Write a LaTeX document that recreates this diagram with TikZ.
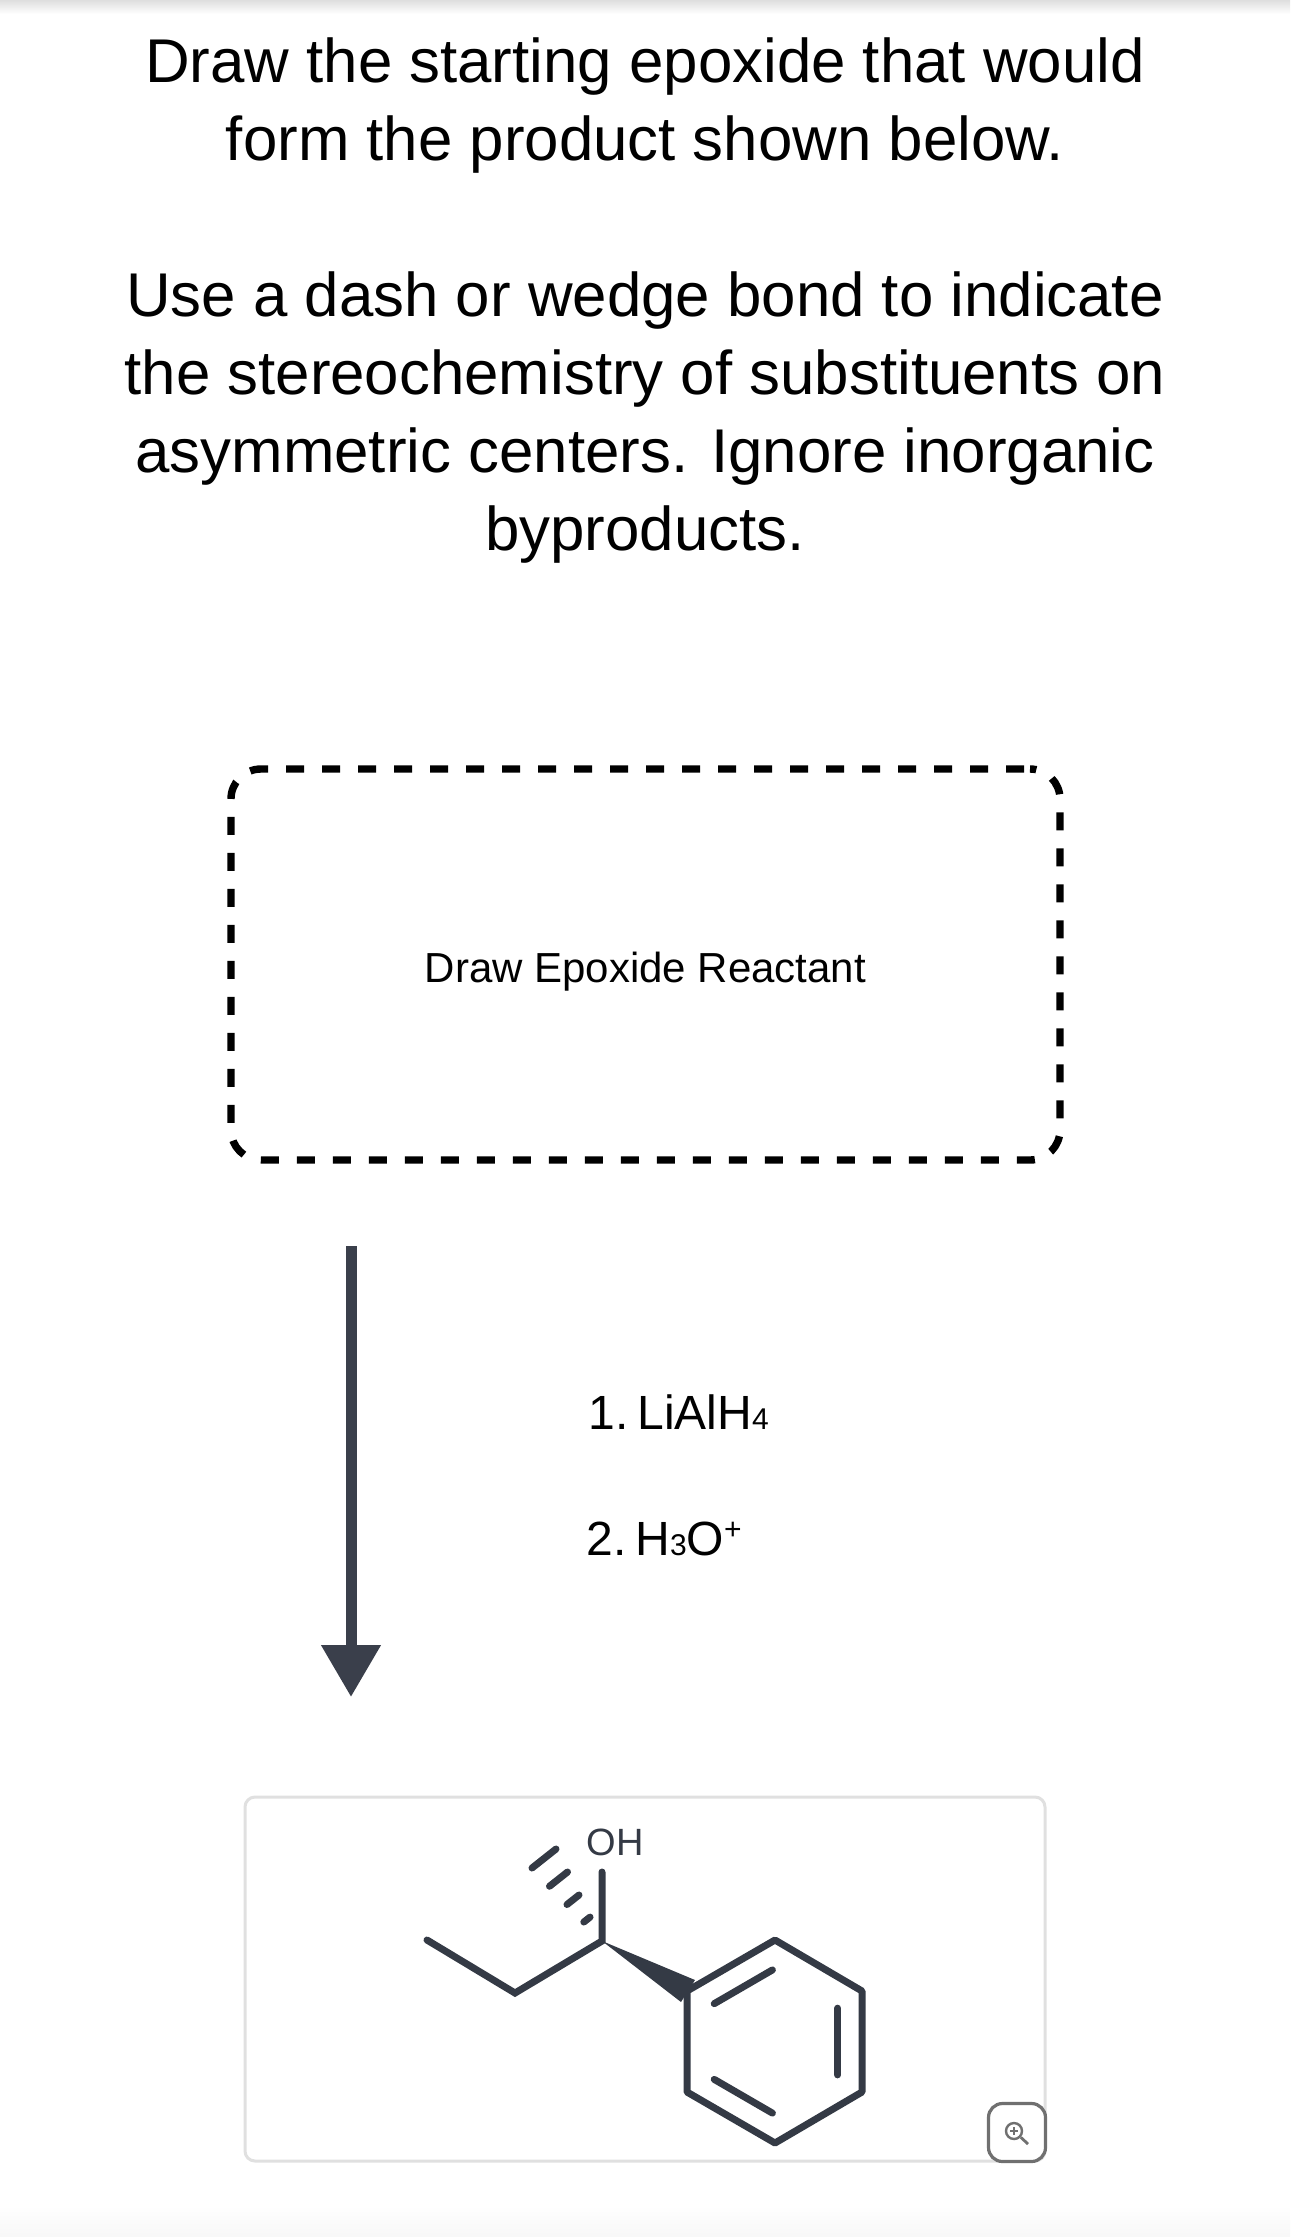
\documentclass[tikz,border=0pt]{standalone}
\usepackage{fontspec}
\setmainfont{Liberation Sans}
\usetikzlibrary{arrows.meta,positioning,calc,shadings}
\definecolor{bondcol}{HTML}{343A45}
\definecolor{arrowcol}{HTML}{3A3F4B}
\definecolor{panelcol}{HTML}{E0E0E0}
\definecolor{btncol}{HTML}{707070}
\tikzset{
  question/.style={align=center,inner sep=0pt,font=\fontsize{30.9pt}{39pt}\selectfont},
  reagent/.style={anchor=base west,inner sep=0pt,font=\fontsize{24pt}{28pt}\selectfont},
  reactbox/.style={draw=black,line width=3.7pt,rounded corners=15pt,dash pattern=on 9pt off 9pt,dash phase=15pt,
    minimum width=414.5pt,minimum height=195.5pt},
  boxlabel/.style={inner sep=0pt,font=\fontsize{21pt}{25pt}\selectfont},
  panel/.style={draw=panelcol,line width=1.5pt,rounded corners=5pt,minimum width=400pt,minimum height=182pt},
  zoombtn/.style={draw=btncol,fill=white,line width=1.6pt,rounded corners=7pt,minimum width=28.5pt,minimum height=29pt},
  bond/.style={draw=bondcol,line width=3.5pt,line cap=round,line join=miter},
  lens/.style={draw=btncol,line width=1.2pt,circle,minimum size=8pt,inner sep=0pt}
}
\newcommand{\smalldigit}[1]{{\fontsize{15pt}{17pt}\selectfont #1}}
\begin{document}
\begin{tikzpicture}[x=0.5pt,y=-0.5pt]
    \useasboundingbox (0,0) rectangle (1290,2237);
    \shade[top color=black!13,bottom color=white] (0,0) rectangle (1290,14);
    \shade[top color=white,bottom color=black!3] (0,2205) rectangle (1290,2237);

    \node[question] (Q1) at (645,106) {Draw the starting epoxide that would\\form the product shown below.};
    \node[question,below=48.5pt of Q1] (Q2) {Use a dash or wedge bond to indicate\\the stereochemistry of substituents on\\asymmetric centers. Ignore inorganic\\byproducts.};

    \node[reactbox] (Box) at (645.5,964.5) {};
    \node[boxlabel] (BoxLabel) at (645.5,972) {Draw Epoxide Reactant};

    \coordinate (A1) at (351,1246);
    \coordinate[below=225.5pt of A1] (A2);
    \draw[arrowcol,line width=5.5pt,-{Triangle[length=26pt,width=28.5pt]}] (A1) -- (A2);

    \node[reagent] (L1) at (588,1429) {1.\hspace{4.5pt}LiAlH\smalldigit{4}};
    \node[reagent] (L2) at (586,1555) {2.\hspace{4.5pt}H\smalldigit{3}O\raisebox{8pt}{\smalldigit{+}}};

    \node[panel] (Panel) at (645,1979) {};
    \node[zoombtn] (Zoom) at (1017,2132.5) {};
    \node[lens] (Lens) at (1014,2131) {};
    \coordinate (H1) at (1028,2144);
    \draw[btncol,line width=1.4pt] (Lens) -- (H1);
    \draw[btncol,line width=.9pt] ($(Lens)+(-4,0)$) -- ($(Lens)+(4,0)$);
    \draw[btncol,line width=.9pt] ($(Lens)+(0,-4)$) -- ($(Lens)+(0,4)$);

    \coordinate (Cc) at (602,1941);
    \coordinate[below left=26pt and 43.5pt of Cc] (Ch2);
    \coordinate[above left=26.5pt and 44pt of Ch2] (Ch3);
    \coordinate[above=34.5pt of Cc] (Ot);
    \node[text=bondcol,inner sep=0pt,font=\fontsize{19pt}{22pt}\selectfont] (OH) at (615,1842) {OH};
    \draw[bond] (Ch3) -- (Ch2) -- (Cc) -- (Ot);

    \coordinate[below right=25pt and 42.5pt of Cc] (R1);
    \coordinate[above right=25.5pt and 44pt of R1] (R2);
    \coordinate[below right=25.5pt and 43.5pt of R2] (R3);
    \coordinate[below=50.5pt of R3] (R4);
    \coordinate[below left=25.5pt and 43.5pt of R4] (R5);
    \coordinate[above left=25.5pt and 44pt of R5] (R6);
    \coordinate (Rc) at ($(R2)!.5!(R5)$);
    \draw[bond,line join=round] (R1) -- (R2) -- (R3) -- (R4) -- (R5) -- (R6) -- cycle;
    \foreach \a/\b in {R1/R2,R3/R4,R5/R6}
        \draw[bond,shorten <=1.5pt,shorten >=1.5pt] ($(Rc)!.72!(\a)$) -- ($(Rc)!.72!(\b)$);

    \coordinate (W1) at (695,1980);
    \coordinate (W2) at (681,2002);
    \fill[bondcol] (Cc) -- (W1) -- (W2) -- cycle;

    \coordinate (D1) at (532,1868);
    \coordinate (D2) at (556,1849);
    \foreach \t in {.26,.5,.75,1}
        \draw[bond] ($(Cc)!\t!(D1)$) -- ($(Cc)!\t!(D2)$);
\end{tikzpicture}
\end{document}
